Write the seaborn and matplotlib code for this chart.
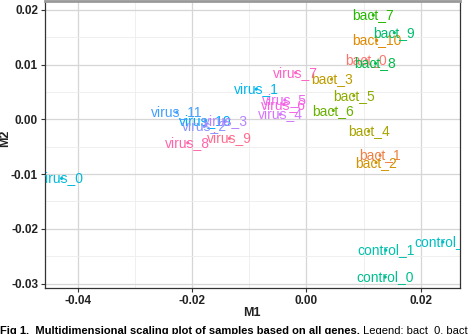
import numpy as np
import matplotlib
matplotlib.use("Agg")
import matplotlib.pyplot as plt
from matplotlib.ticker import AutoMinorLocator, FixedLocator
import seaborn as sns
import pandas as pd

# ---- data ----
samples = ["bact_0", "bact_1", "bact_10", "bact_2", "bact_3", "bact_4", "bact_5",
           "bact_6", "bact_7", "bact_8", "bact_9",
           "control_0", "control_1", "control_2",
           "virus_0", "virus_1", "virus_10", "virus_11", "virus_2", "virus_3",
           "virus_4", "virus_5", "virus_6", "virus_7", "virus_8", "virus_9"]
m1 = [0.0105, 0.0129, 0.0123, 0.0122, 0.0044, 0.0109, 0.0083,
      0.0047, 0.0117, 0.0121, 0.0154,
      0.0138, 0.0139, 0.0239,
      -0.0429, -0.0088, -0.0177, -0.0227, -0.0179, -0.0142,
      -0.0046, -0.0038, -0.0040, -0.0019, -0.0208, -0.0135]
m2 = [0.0108, -0.0066, 0.0144, -0.0079, 0.0073, -0.0022, 0.0043,
      0.0016, 0.0190, 0.0102, 0.0158,
      -0.0288, -0.0239, -0.0224,
      -0.0108, 0.0055, -0.0003, 0.0013, -0.0013, -0.0004,
      0.0009, 0.0035, 0.0027, 0.0085, -0.0043, -0.0035]
x_ticks = [-0.04, -0.02, 0.00, 0.02]
y_ticks = [-0.03, -0.02, -0.01, 0.00, 0.01, 0.02]
x_title = "M1"
y_title = "M2"
caption_bold = "Fig 1.  Multidimensional scaling plot of samples based on all genes."
caption_rest = " Legend: bact_0, bact_1 and bact_2 ..."


def hcl(h, c=100.0, l=65.0):
    h = np.deg2rad(h)
    u = c * np.cos(h)
    v = c * np.sin(h)
    Xn, Yn, Zn = 95.047, 100.0, 108.883
    un = 4 * Xn / (Xn + 15 * Yn + 3 * Zn)
    vn = 9 * Yn / (Xn + 15 * Yn + 3 * Zn)
    Y = Yn * ((l + 16) / 116) ** 3 if l > 8 else Yn * l / 903.3
    up = u / (13 * l) + un
    vp = v / (13 * l) + vn
    X = Y * 9 * up / (4 * vp)
    Z = Y * (12 - 3 * up - 20 * vp) / (4 * vp)
    X, Y, Z = X / 100, Y / 100, Z / 100
    r = 3.2404542 * X - 1.5371385 * Y - 0.4985314 * Z
    g = -0.9692660 * X + 1.8760108 * Y + 0.0415560 * Z
    b = 0.0556434 * X - 0.2040259 * Y + 1.0572252 * Z

    def gam(t):
        t = min(max(t, 0.0), 1.0)
        return 12.92 * t if t <= 0.0031308 else 1.055 * t ** (1 / 2.4) - 0.055
    return (gam(r), gam(g), gam(b))


n = len(samples)
hues = np.linspace(15, 375, n + 1)[:-1]
palette = {s: hcl(h) for s, h in zip(samples, hues)}

df = pd.DataFrame({"M1": m1, "M2": m2, "sample": samples})

sns.set_theme(style="white")
plt.rcParams["font.family"] = ["Liberation Sans", "DejaVu Sans"]

fig = plt.figure(figsize=(4.74, 3.34), dpi=100)
ax = fig.add_axes([45 / 474, 1 - 288 / 334, 415 / 474, 287 / 334])

sns.scatterplot(data=df, x="M1", y="M2", hue="sample", palette=palette,
                s=5, linewidth=0, legend=False, ax=ax, zorder=3)
for xv, yv, s in zip(m1, m2, samples):
    ax.text(xv, yv, s, color=palette[s], fontsize=10, ha="center", va="center",
            clip_on=True, zorder=4)

ax.set_xlim(-0.0458, 0.0269)
ax.set_ylim(-0.0308, 0.0216)
ax.xaxis.set_major_locator(FixedLocator(x_ticks))
ax.yaxis.set_major_locator(FixedLocator(y_ticks))
ax.set_xticklabels([f"{t:.2f}" for t in x_ticks])
ax.set_yticklabels([f"{t:.2f}" for t in y_ticks])
ax.xaxis.set_minor_locator(AutoMinorLocator(2))
ax.yaxis.set_minor_locator(AutoMinorLocator(2))
ax.grid(which="major", color="#d6d6d6", linewidth=0.9)
ax.grid(which="minor", color="#ededed", linewidth=0.6)
ax.set_axisbelow(True)
ax.tick_params(which="major", direction="out", length=3, width=0.8, color="#333333",
               labelsize=8.5, labelcolor="#222222", pad=2, bottom=True, left=True)
ax.tick_params(which="minor", length=0)
for lab in ax.get_xticklabels() + ax.get_yticklabels():
    lab.set_fontweight("bold")
for side in ["left", "bottom", "right"]:
    ax.spines[side].set_color("#333333")
    ax.spines[side].set_linewidth(0.9)
ax.spines["top"].set_color("#999999")
ax.spines["top"].set_linewidth(2.0)
ax.set_xlabel(x_title, fontsize=9, fontweight="bold", color="#222222")
ax.set_ylabel(y_title, fontsize=9, fontweight="bold", color="#222222")
ax.xaxis.set_label_coords((252 - 45) / 415, -(307 - 288) / 287)
ax.yaxis.set_label_coords(-(45 - 11) / 415, 0.52)

t1 = fig.text(0.0, 1 - 331 / 334, caption_bold, fontsize=8, fontweight="bold",
              ha="left", va="center", color="black")
fig.canvas.draw()
bb = t1.get_window_extent()
fig.text(bb.x1 / fig.bbox.width, 1 - 331 / 334, caption_rest, fontsize=8,
         ha="left", va="center", color="black")

fig.savefig("out.png", dpi=100)
